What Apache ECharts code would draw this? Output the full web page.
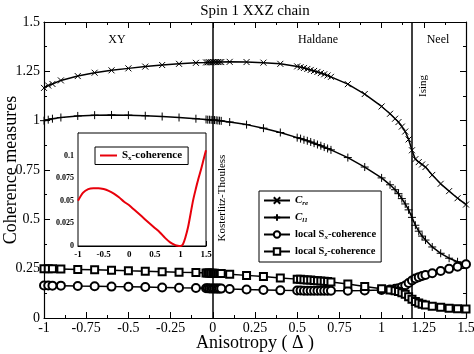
<!DOCTYPE html>
<html>
<head>
<meta charset="utf-8">
<script src="https://cdn.jsdelivr.net/npm/echarts@6/dist/echarts.min.js"></script>
<style>
  html, body { margin: 0; padding: 0; background: #fff; }
  #chart { width: 474px; height: 354px; }
</style>
</head>
<body>
<div id="chart"></div>
<script>
// anisotropy values where the markers sit (shared by all four main curves)
var delta = [-1, -0.975, -0.95, -0.9, -0.8, -0.7, -0.6, -0.5, -0.4, -0.3, -0.2, -0.1,
  -0.04, -0.03, -0.02, -0.01, 0, 0.01, 0.02, 0.03, 0.04, 0.05,
  0.1, 0.2, 0.3, 0.4, 0.5, 0.52, 0.54, 0.56, 0.58, 0.6, 0.62, 0.64, 0.66, 0.68, 0.7,
  0.8, 0.9, 1.0, 1.05, 1.08, 1.1, 1.12, 1.14, 1.16, 1.18, 1.2, 1.22, 1.24, 1.26,
  1.3, 1.35, 1.4, 1.45, 1.5];

var cRe = [1.166, 1.178, 1.186, 1.204, 1.226, 1.243, 1.255, 1.265, 1.274, 1.282, 1.288, 1.293,
  1.295, 1.296, 1.296, 1.296, 1.297, 1.297, 1.297, 1.297, 1.297, 1.297,
  1.298, 1.297, 1.294, 1.288, 1.275, 1.271, 1.267, 1.262, 1.257, 1.252, 1.247, 1.241, 1.235, 1.229, 1.222,
  1.185, 1.135, 1.072, 1.035, 1.010, 0.993, 0.970, 0.945, 0.905, 0.850, 0.805, 0.790, 0.778, 0.765,
  0.725, 0.680, 0.643, 0.607, 0.575];

var cL1 = [1.0, 1.005, 1.01, 1.016, 1.024, 1.028, 1.029, 1.028, 1.025, 1.021, 1.016, 1.01,
  1.006, 1.005, 1.005, 1.004, 1.003, 1.003, 1.002, 1.001, 1.0, 0.999,
  0.993, 0.98, 0.962, 0.94, 0.914, 0.909, 0.903, 0.898, 0.892, 0.886, 0.879, 0.873, 0.866, 0.859, 0.852,
  0.813, 0.765, 0.71, 0.675, 0.65, 0.63, 0.605, 0.578, 0.548, 0.51, 0.47, 0.44, 0.415, 0.395,
  0.36, 0.328, 0.303, 0.285, 0.272];

var localSx = [0.165, 0.165, 0.164, 0.164, 0.162, 0.161, 0.159, 0.158, 0.157, 0.155, 0.153, 0.152,
  0.151, 0.151, 0.15, 0.15, 0.15, 0.15, 0.149, 0.149, 0.149, 0.149,
  0.147, 0.144, 0.142, 0.14, 0.139, 0.139, 0.138, 0.138, 0.138, 0.138, 0.138, 0.138, 0.138, 0.138, 0.138,
  0.138, 0.139, 0.142, 0.145, 0.148, 0.151, 0.157, 0.165, 0.177, 0.19, 0.2, 0.207, 0.213, 0.218,
  0.227, 0.238, 0.249, 0.26, 0.272];

var localSz = [0.25, 0.25, 0.249, 0.248, 0.246, 0.244, 0.242, 0.239, 0.237, 0.235, 0.232, 0.23,
  0.228, 0.228, 0.228, 0.227, 0.227, 0.227, 0.226, 0.226, 0.226, 0.225,
  0.222, 0.216, 0.21, 0.203, 0.197, 0.196, 0.194, 0.193, 0.192, 0.19, 0.189, 0.188, 0.186, 0.185, 0.183,
  0.172, 0.16, 0.148, 0.142, 0.138, 0.134, 0.128, 0.12, 0.108, 0.095, 0.084, 0.076, 0.07, 0.066,
  0.06, 0.054, 0.05, 0.047, 0.045];

// inset: Sx-coherence
var insetDelta = [-1, -0.9, -0.8, -0.7, -0.6, -0.5, -0.4, -0.3, -0.2, -0.1, 0, 0.1, 0.2, 0.3, 0.4,
  0.5, 0.6, 0.7, 0.8, 0.9, 0.95, 1.0, 1.05, 1.1, 1.15, 1.2, 1.25, 1.3, 1.35, 1.4, 1.45, 1.5];
var insetSx = [0.050, 0.059, 0.063, 0.064, 0.064, 0.063, 0.061, 0.058, 0.054, 0.049, 0.045, 0.040,
  0.035, 0.030, 0.025, 0.020, 0.015, 0.009, 0.004, 0.001, 0.0002, 0, 0.002, 0.010, 0.021, 0.036,
  0.051, 0.063, 0.074, 0.084, 0.095, 0.106];

// phase boundaries (Kosterlitz-Thouless and Ising)
var boundaries = [0, 1.18];

var serif = '"Liberation Serif", "DejaVu Serif", serif';
var crossX = 'path://M0,0L10,10M10,0L0,10';
var crossPlus = 'path://M5,0L5,10M0,5L10,5';

function pairs(xs, ys) {
  return xs.map(function (x, i) { return [x, ys[i]]; });
}

var legendNames = {
  'Cre': '{c|C}{s|re}',
  'Cl1': '{c|C}{s|l1}',
  'localSx': '{t|local S}{s|x}{t|-coherence}',
  'localSz': '{t|local S}{s|z}{t|-coherence}',
  'Sx-coherence': '{b|S}{bs|x}{b|-coherence}'
};

var dom = document.getElementById('chart');
var myChart = echarts.init(dom, null, { renderer: 'canvas' });

function mainSeries(name, data, symbol, size) {
  return {
    type: 'line',
    name: name,
    xAxisIndex: 0,
    yAxisIndex: 0,
    data: pairs(delta, data),
    symbol: symbol,
    symbolSize: size,
    showAllSymbol: true,
    color: '#000',
    lineStyle: { color: '#000', width: 1.5 },
    itemStyle: { color: '#000', borderColor: '#000', borderWidth: 1 },
    emphasis: { disabled: true },
    z: 3
  };
}

var series = [
  mainSeries('Cre', cRe, crossX, 6),
  mainSeries('Cl1', cL1, crossPlus, 8),
  mainSeries('localSx', localSx, 'emptyCircle', 8),
  mainSeries('localSz', localSz, 'emptyRect', 7)
];

series[0].markLine = {
  silent: true,
  symbol: 'none',
  label: { show: false },
  lineStyle: { color: '#000', width: 1.5, type: 'solid' },
  data: boundaries.map(function (b) { return { xAxis: b }; })
};

series.push({
  type: 'line',
  name: 'Sx-coherence',
  xAxisIndex: 2,
  yAxisIndex: 2,
  data: pairs(insetDelta, insetSx),
  smooth: 0.3,
  showSymbol: false,
  symbol: 'none',
  color: '#e8000b',
  lineStyle: { color: '#e8000b', width: 2 },
  z: 6
});

var option = {
  backgroundColor: '#fff',
  animation: false,
  textStyle: { fontFamily: serif, color: '#000' },
  grid: [
    { left: 44, right: 8, top: 22, bottom: 36, outerBoundsMode: 'none' },
    { left: 78, top: 133, width: 128, height: 113, outerBoundsMode: 'none', show: true, backgroundColor: '#fff', borderColor: '#000', borderWidth: 1, z: 5 }
  ],
  legend: [
    {
      data: ['Cre', 'Cl1', 'localSx', 'localSz'],
      orient: 'vertical',
      left: 259,
      top: 191,
      itemWidth: 26,
      itemHeight: 8,
      itemGap: 5,
      padding: [4, 5, 4, 4],
      borderColor: '#000',
      borderWidth: 1,
      backgroundColor: '#fff',
      selectedMode: false,
      formatter: function (n) { return legendNames[n]; },
      textStyle: {
        fontFamily: serif,
        rich: {
          c: { fontFamily: serif, fontSize: 11, fontStyle: 'italic', fontWeight: 'bold', color: '#000' },
          s: { fontFamily: serif, fontSize: 7, fontStyle: 'italic', fontWeight: 'bold', color: '#000', padding: [6, 0, 0, 0] },
          t: { fontFamily: serif, fontSize: 10.5, fontWeight: 'bold', color: '#000' }
        }
      }
    },
    {
      data: [{ name: 'Sx-coherence', icon: 'rect' }],
      left: 95,
      top: 147,
      itemWidth: 17,
      itemHeight: 2,
      padding: [3, 6, 3, 5],
      borderColor: '#000',
      borderWidth: 1,
      backgroundColor: '#fff',
      selectedMode: false,
      z: 8,
      formatter: function (n) { return legendNames[n]; },
      textStyle: {
        fontFamily: serif,
        rich: {
          b: { fontFamily: serif, fontSize: 11, fontWeight: 'bold', color: '#000' },
          bs: { fontFamily: serif, fontSize: 7, fontWeight: 'bold', color: '#000', padding: [5, 0, 0, 0] }
        }
      }
    }
  ],
  xAxis: [
    {
      gridIndex: 0, type: 'value', min: -1, max: 1.5, interval: 0.25,
      name: 'Anisotropy ( \u0394 )', nameLocation: 'middle', nameGap: 16, nameMoveOverlap: false,
      nameTextStyle: { fontFamily: serif, fontSize: 18, color: '#000' },
      axisLine: { onZero: false, lineStyle: { color: '#000', width: 1.2 } },
      axisTick: { inside: true, length: 6, lineStyle: { color: '#000' } },
      minorTick: { show: true, splitNumber: 2, length: 3, lineStyle: { color: '#000' } },
      axisLabel: { fontFamily: serif, fontSize: 14, color: '#000', margin: 3 },
      splitLine: { show: false }
    },
    {
      gridIndex: 0, type: 'value', position: 'top', min: -1, max: 1.5, interval: 0.25,
      axisLine: { onZero: false, lineStyle: { color: '#000', width: 1.2 } },
      axisTick: { inside: true, length: 6, lineStyle: { color: '#000' } },
      minorTick: { show: true, splitNumber: 2, length: 3, lineStyle: { color: '#000' } },
      axisLabel: { show: false },
      splitLine: { show: false }
    },
    {
      gridIndex: 1, type: 'value', min: -1, max: 1.5, interval: 0.5,
      axisLine: { onZero: false, lineStyle: { color: '#000' } },
      axisTick: { inside: true, length: 5, lineStyle: { color: '#000' } },
      minorTick: { show: true, splitNumber: 2, length: 3, lineStyle: { color: '#000' } },
      axisLabel: { fontFamily: serif, fontSize: 9, fontWeight: 'bold', color: '#000', margin: 4 },
      splitLine: { show: false }
    }
  ],
  yAxis: [
    {
      gridIndex: 0, type: 'value', min: 0, max: 1.5, interval: 0.25,
      name: 'Coherence measures', nameLocation: 'middle', nameGap: 24, nameMoveOverlap: false,
      nameTextStyle: { fontFamily: serif, fontSize: 18, color: '#000' },
      axisLine: { onZero: false, lineStyle: { color: '#000', width: 1.2 } },
      axisTick: { inside: true, length: 6, lineStyle: { color: '#000' } },
      minorTick: { show: true, splitNumber: 2, length: 3, lineStyle: { color: '#000' } },
      axisLabel: { fontFamily: serif, fontSize: 14, color: '#000', margin: 4 },
      splitLine: { show: false }
    },
    {
      gridIndex: 0, type: 'value', position: 'right', min: 0, max: 1.5, interval: 0.25,
      axisLine: { show: true, onZero: false, lineStyle: { color: '#000', width: 1.2 } },
      axisTick: { inside: true, length: 6, lineStyle: { color: '#000' } },
      minorTick: { show: true, splitNumber: 2, length: 3, lineStyle: { color: '#000' } },
      axisLabel: { show: false },
      splitLine: { show: false }
    },
    {
      gridIndex: 1, type: 'value', min: 0, max: 0.125, interval: 0.025,
      axisLine: { onZero: false, lineStyle: { color: '#000' } },
      axisTick: { inside: true, length: 5, lineStyle: { color: '#000' } },
      minorTick: { show: true, splitNumber: 2, length: 3, lineStyle: { color: '#000' } },
      axisLabel: {
        fontFamily: serif, fontSize: 8, fontWeight: 'bold', color: '#000', margin: 4,
        formatter: function (v) { return v > 0.11 ? '' : String(+v.toFixed(3)); }
      },
      splitLine: { show: false }
    }
  ],
  graphic: [
    { type: 'text', x: 255, y: 11, style: { text: 'Spin 1 XXZ chain', font: '15px ' + serif, fill: '#000', textAlign: 'center', textVerticalAlign: 'middle' } },
    { type: 'text', x: 117, y: 40, style: { text: 'XY', font: '12px ' + serif, fill: '#000', textAlign: 'center', textVerticalAlign: 'middle' } },
    { type: 'text', x: 318, y: 40, style: { text: 'Haldane', font: '12px ' + serif, fill: '#000', textAlign: 'center', textVerticalAlign: 'middle' } },
    { type: 'text', x: 438, y: 40, style: { text: 'Neel', font: '12px ' + serif, fill: '#000', textAlign: 'center', textVerticalAlign: 'middle' } },
    { type: 'text', x: 423, y: 86, rotation: Math.PI / 2, style: { text: 'Ising', font: '11px ' + serif, fill: '#000', textAlign: 'center', textVerticalAlign: 'middle' } },
    { type: 'text', x: 222, y: 198, rotation: Math.PI / 2, style: { text: 'Kosterlitz-Thouless', font: '11px ' + serif, fill: '#000', textAlign: 'center', textVerticalAlign: 'middle' } }
  ],
  series: series
};

if (option && typeof option === 'object') {
  myChart.setOption(option);
}
</script>
</body>
</html>
